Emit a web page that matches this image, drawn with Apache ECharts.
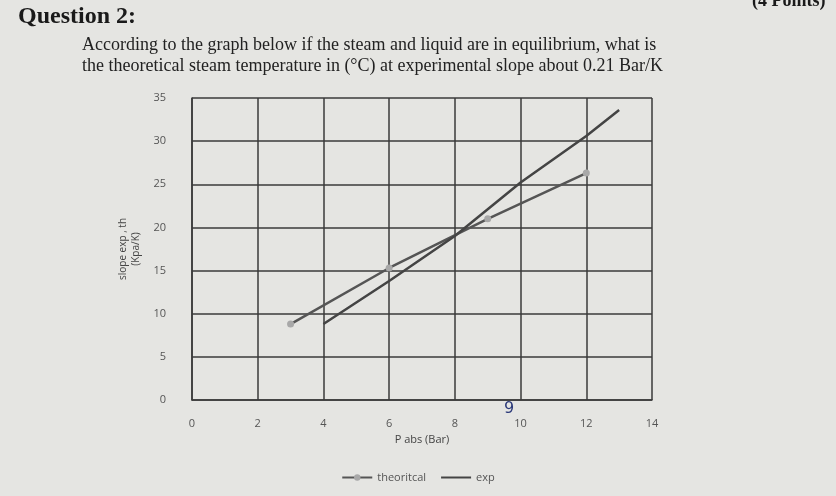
<!DOCTYPE html>
<html><head><meta charset="utf-8">
<script src="https://cdn.jsdelivr.net/npm/echarts@6/dist/echarts.min.js"></script>
<style>html,body{margin:0;padding:0;background:#e5e5e2;}#c{width:836px;height:496px;}</style>
</head><body><div id="c"></div>
<script>
const xTicks = [0, 2, 4, 6, 8, 10, 12, 14];
const yTicks = [0, 5, 10, 15, 20, 25, 30, 35];
const theoP = [3, 6, 9, 12];
const theoSlope = [8.8, 15.3, 21.0, 26.3];
const expP = [4, 6, 8, 10, 12, 13];
const expSlope = [8.8, 13.8, 19.0, 25.2, 30.6, 33.6];

const chart = echarts.init(document.getElementById('c'), null, {renderer: 'canvas'});
const serif = '"Liberation Serif", "DejaVu Serif", serif';
const sans = '"Open Sans", "Liberation Sans", sans-serif';
chart.setOption({
  backgroundColor: '#e5e5e2',
  animation: false,
  graphic: [
    {type: 'text', left: 18, top: 5, style: {text: 'Question 2:', font: 'bold 24px ' + serif, fill: '#1a1a1a'}},
    {type: 'text', left: 752, top: -8, style: {text: '(4 Points)', font: 'bold 18px ' + serif, fill: '#1a1a1a'}},
    {type: 'text', left: 82, top: 36, style: {text: 'According to the graph below if the steam and liquid are in equilibrium, what is', font: '18px ' + serif, fill: '#222'}},
    {type: 'text', left: 82, top: 57, style: {text: 'the theoretical steam temperature in (\u00b0C) at experimental slope about 0.21 Bar/K', font: '18px ' + serif, fill: '#222'}},
    {type: 'text', left: 504, top: 401, style: {text: '9', font: '16px "DejaVu Sans", sans-serif', fill: '#2c3a7a'}}
  ],
  grid: {left: 192, right: 184, top: 98, bottom: 96},
  legend: {
    bottom: 8, left: 'center', itemWidth: 30, itemHeight: 8, itemGap: 14,
    textStyle: {color: '#555', fontSize: 11, fontFamily: sans},
    data: [{name: 'theoritcal'}, {name: 'exp', itemStyle: {opacity: 0}}]
  },
  xAxis: {
    type: 'value', min: 0, max: 14, interval: 2,
    name: 'P abs (Bar)', nameLocation: 'middle', nameGap: 34,
    nameTextStyle: {color: '#444', fontSize: 11, fontFamily: sans},
    axisLine: {show: true, lineStyle: {color: '#3a3a3a', width: 1.5}},
    axisTick: {show: false},
    axisLabel: {color: '#555', fontSize: 11, margin: 18, fontFamily: sans,
      formatter: v => xTicks.includes(v) ? String(v) : ''},
    splitLine: {show: true, lineStyle: {color: '#3a3a3a', width: 1.5}}
  },
  yAxis: {
    type: 'value', min: 0, max: 35, interval: 5,
    name: 'slope exp , th\n(Kpa/K)', nameLocation: 'middle', nameGap: 46,
    nameTextStyle: {color: '#444', fontSize: 10, fontFamily: sans, lineHeight: 13},
    axisLine: {show: true, lineStyle: {color: '#3a3a3a', width: 1.5}},
    axisTick: {show: false},
    axisLabel: {color: '#555', fontSize: 11, margin: 26, fontFamily: sans,
      formatter: v => yTicks.includes(v) ? String(v) : ''},
    splitLine: {show: true, lineStyle: {color: '#3a3a3a', width: 1.5}}
  },
  series: [
    {
      name: 'theoritcal', type: 'line',
      data: theoP.map((p, i) => [p, theoSlope[i]]),
      symbol: 'circle', symbolSize: 7,
      lineStyle: {color: '#555', width: 2.5},
      itemStyle: {color: '#a8a8a8', borderWidth: 0}
    },
    {
      name: 'exp', type: 'line',
      data: expP.map((p, i) => [p, expSlope[i]]),
      showSymbol: false, symbol: 'none',
      lineStyle: {color: '#444', width: 2.5},
      itemStyle: {color: '#444'}
    }
  ]
});
</script></body></html>
